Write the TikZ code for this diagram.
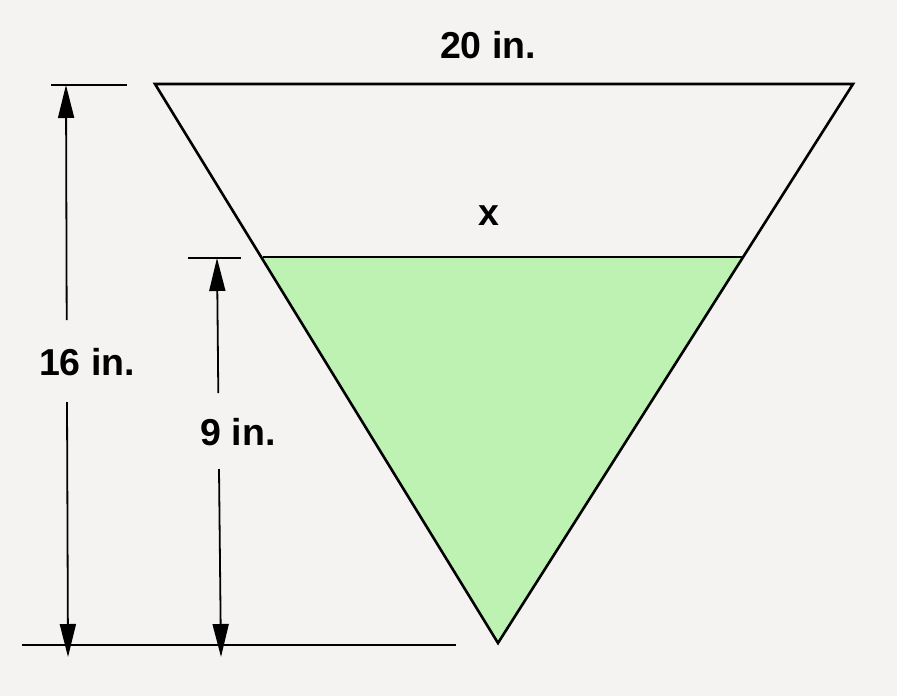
\documentclass[tikz,border=0pt]{standalone}
\usepackage{fontspec}
\setmainfont{Liberation Sans}
\usetikzlibrary{arrows.meta}
\definecolor{bg}{RGB}{244,243,242}
\definecolor{water}{RGB}{190,242,178}
\tikzset{
  dimline/.style={line width=1.8pt, black},
  dimarrow/.style={dimline, -{Triangle[length=33pt,width=16pt]}},
  shapeline/.style={line width=2.6pt, black, line join=miter},
  lbl/.style={font=\fontsize{37.5}{40}\selectfont\bfseries, inner sep=0pt, anchor=base}
}
\begin{document}
\begin{tikzpicture}[x=1pt,y=-1pt]
\fill[bg] (0,0) rectangle (897,696);
\useasboundingbox (0,0) rectangle (897,696);
% triangle vertices
\coordinate (tl) at (155,84);
\coordinate (tr) at (853,84);
\coordinate (bv) at (498,643);
\coordinate (wl) at (263,257);
\coordinate (wr) at (742,257);
% water
\fill[water] (wl) -- (wr) -- (bv) -- cycle;
\draw[shapeline] (tl) -- (tr) -- (bv) -- cycle;
\draw[shapeline] (wl) -- (wr);
% extension lines
\coordinate (e1a) at (51,85);
\coordinate (e1b) at (127,85);
\coordinate (e2a) at (188,258);
\coordinate (e2b) at (241,258);
\coordinate (e3a) at (22,645);
\coordinate (e3b) at (456,645);
\draw[dimline] (e1a) -- (e1b);
\draw[dimline] (e2a) -- (e2b);
\draw[dimline] (e3a) -- (e3b);
% labels
\node[lbl] (l20) at (488,58) {20 in.};
\node[lbl] (lx) at (489,225) {x};
\node[lbl] (l16) at (87,375) {16 in.};
\node[lbl] (l9) at (238,445) {9 in.};
% 16 in arrow
\coordinate (a16top) at (66,85);
\coordinate (a16m1) at (66.7,320);
\coordinate (a16m2) at (67,402);
\coordinate (a16bot) at (68,657);
\draw[dimarrow] (a16m1) -- (a16top);
\draw[dimarrow] (a16m2) -- (a16bot);
% 9 in arrow
\coordinate (a9top) at (217,258);
\coordinate (a9m1) at (218.3,393);
\coordinate (a9m2) at (219,469);
\coordinate (a9bot) at (221,657);
\draw[dimarrow] (a9m1) -- (a9top);
\draw[dimarrow] (a9m2) -- (a9bot);
\end{tikzpicture}
\end{document}
